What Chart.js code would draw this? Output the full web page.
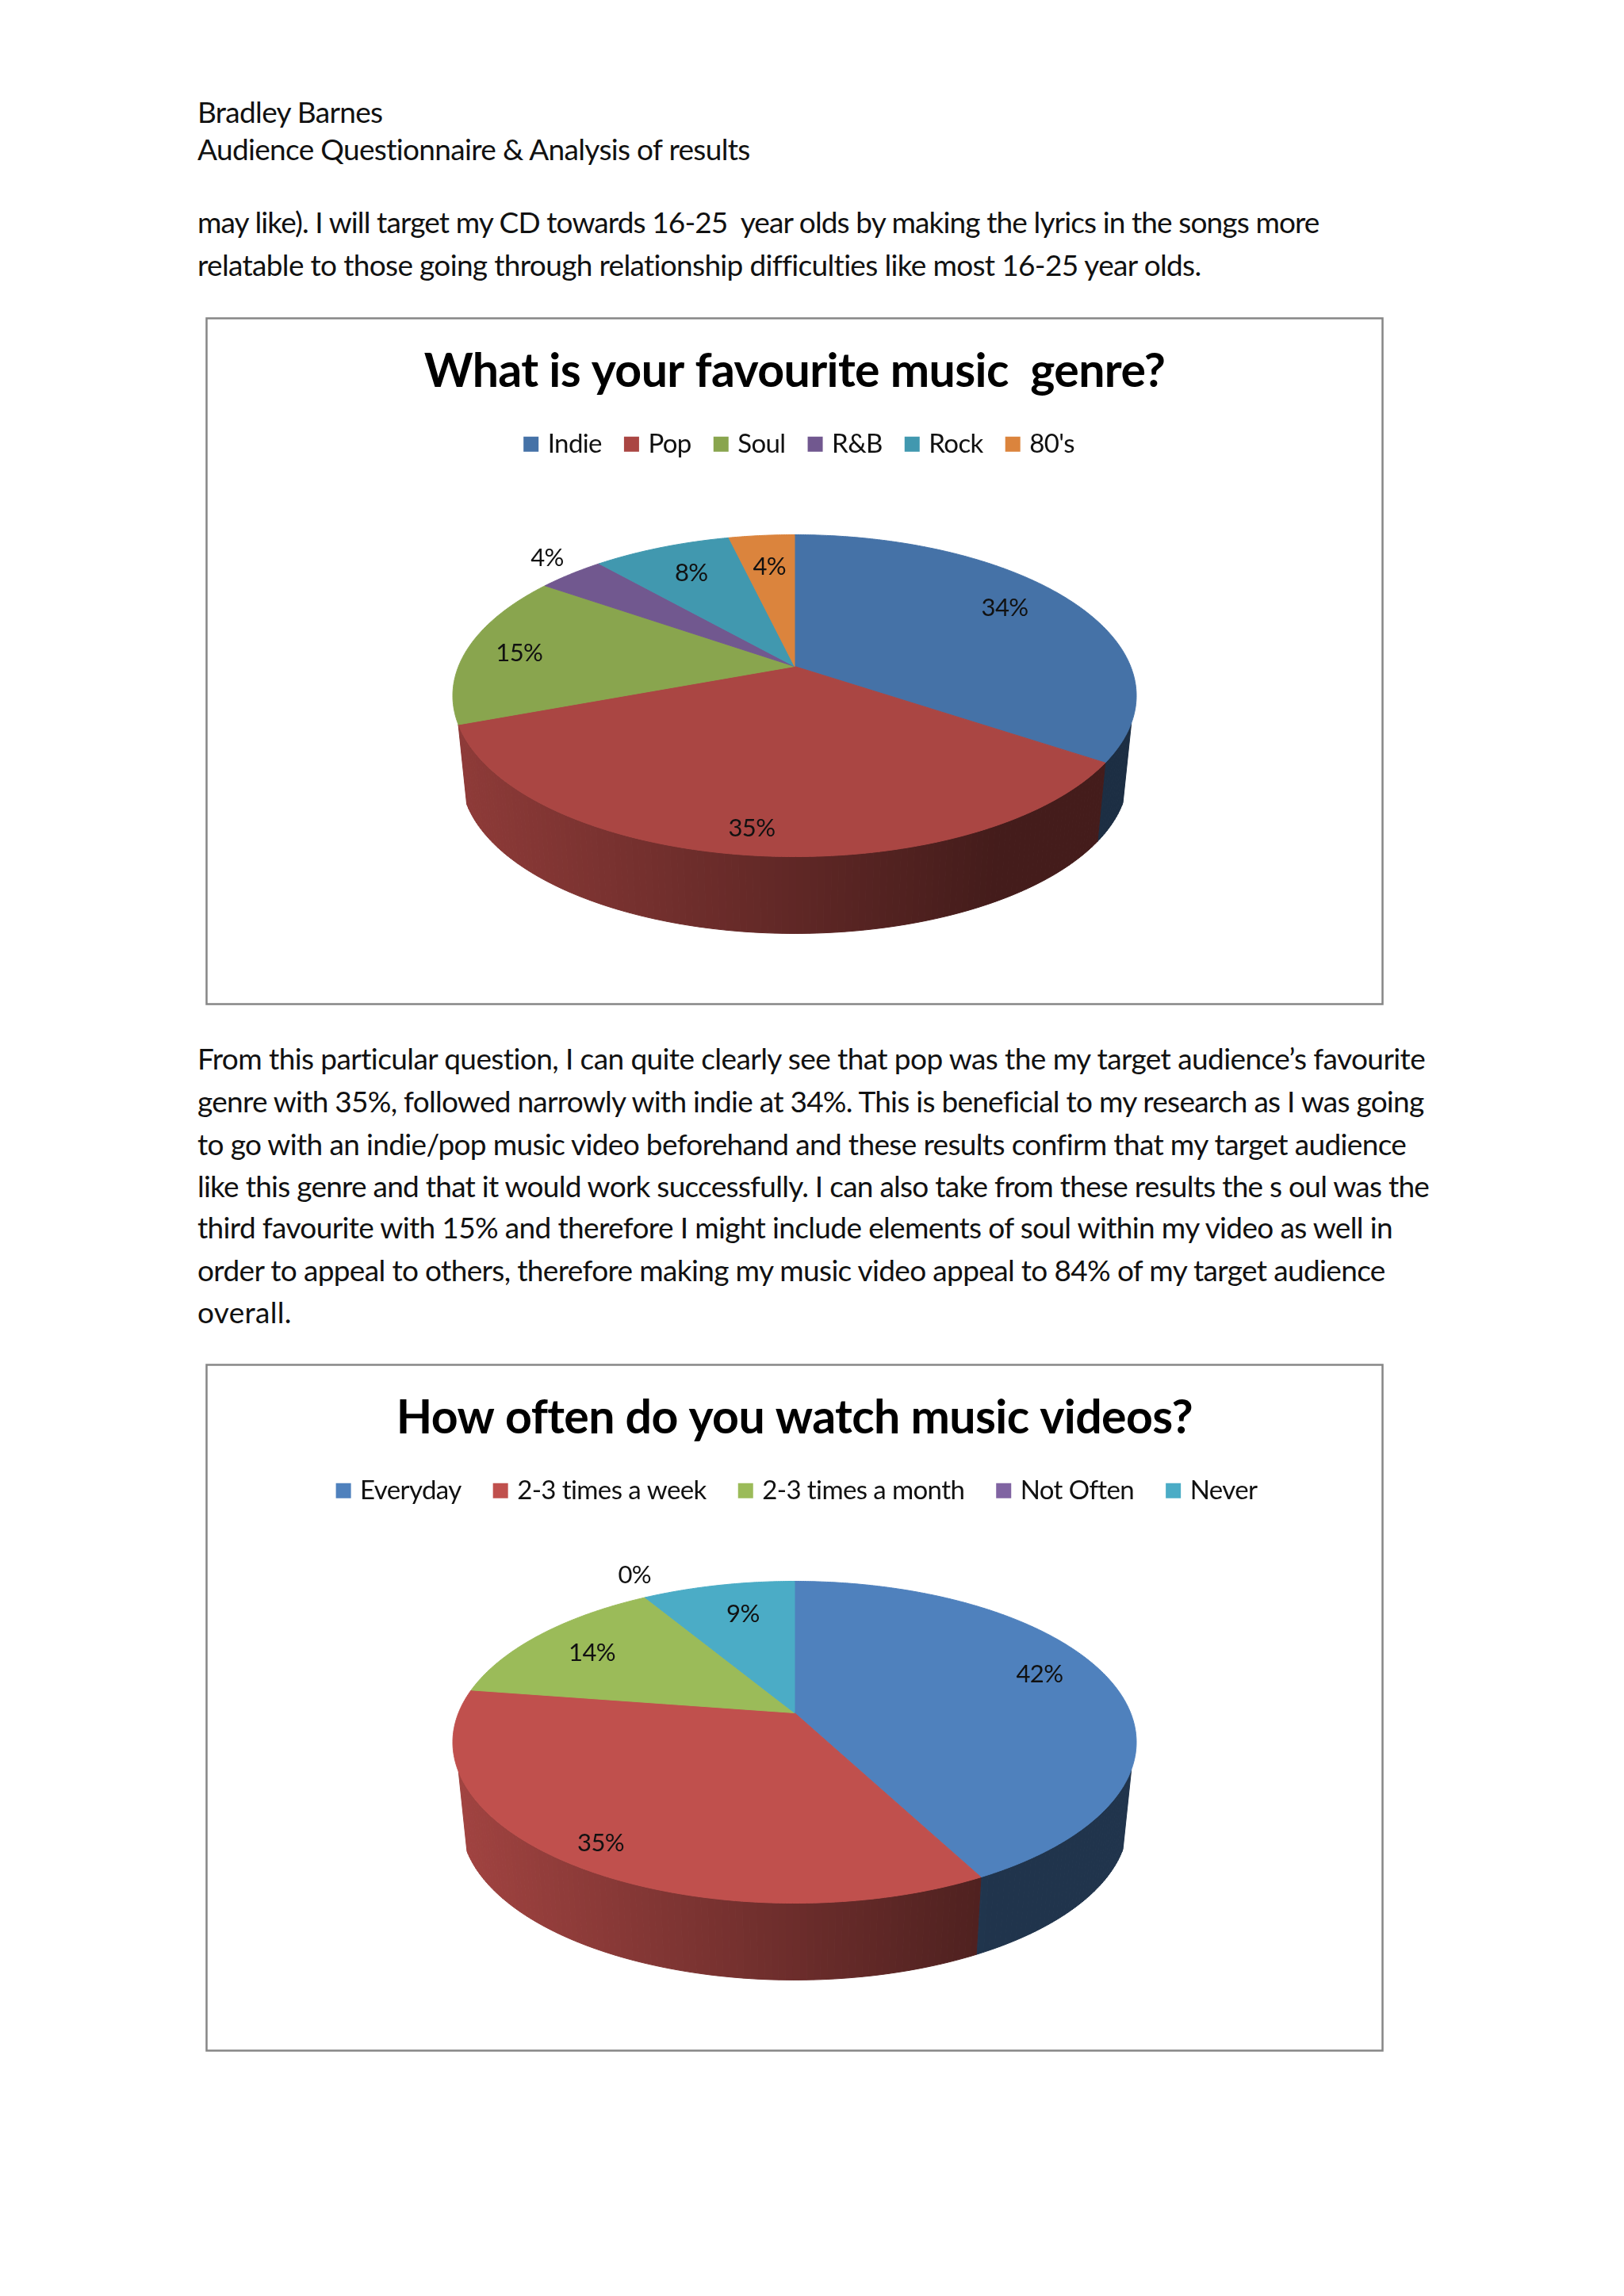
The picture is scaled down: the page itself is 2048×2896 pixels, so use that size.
<!DOCTYPE html>
<html><head><meta charset="utf-8">
<script src="https://cdn.jsdelivr.net/npm/chart.js@4"></script>
<style>
html,body{margin:0;padding:0;background:#fff;width:2048px;height:2896px;overflow:hidden}
.ln{position:absolute;left:249px;white-space:pre;font:37px/44px Lato,sans-serif;color:#111}
canvas{position:absolute;left:259px;display:block}
#c1{top:400px}#c2{top:1720px}
</style></head><body>
<canvas id="c1" width="1486" height="868"></canvas>
<canvas id="c2" width="1486" height="868"></canvas>
<script>
// ---- data ----
const genreCategories = ["Indie","Pop","Soul","R&B","Rock","80's"];
const genreValues = [34.4,34.9,15.4,3.8,7.8,3.7];
const genreColors = ["#4572a7","#aa4643","#89a54e","#71588f","#4198af","#db843d"];
const watchCategories = ["Everyday","2-3 times a week","2-3 times a month","Not Often","Never"];
const watchValues = [42.3,35.1,14.0,0,8.6];
const watchColors = ["#4f81bd","#c0504d","#9bbb59","#8064a2","#4bacc6"];
const genreLabelRadius = [.784,.884,.837,1.162,.753,.732];
const genreLabelShift = [-3,.3,-1.2,1.7,.1,0];
const watchLabelRadius = [.807,.882,.768,1.194,.741];
const watchLabelShift = [-5,-.9,-1.4,2.6,1.9];
const pageLines = [
 ["Bradley Barnes",77,261],
 ["Audience Questionnaire & Analysis of results",102,512],
 ["may like). I will target my CD towards 16-25  year olds by making the lyrics in the songs more",152,900],
 ["relatable to those going through relationship difficulties like most 16-25 year olds.",181,819],
 ["From this particular question, I can quite clearly see that pop was the my target audience’s favourite",723,973],
 ["genre with 35%, followed narrowly with indie at 34%. This is beneficial to my research as I was going",752,971],
 ["to go with an indie/pop music video beforehand and these results confirm that my target audience",781,959],
 ["like this genre and that it would work successfully. I can also take from these results the s oul was the",810,975],
 ["third favourite with 15% and therefore I might include elements of soul within my video as well in",838,950],
 ["order to appeal to others, therefore making my music video appeal to 84% of my target audience",867,945],
 ["overall.",896,199]
];
// ---- page text ----
const K = 2048/1108;
pageLines.forEach(([t,y,end])=>{
  const d=document.createElement('div');d.className='ln';d.textContent=t;
  d.style.top=(y*K-23)+'px';document.body.appendChild(d);
  const w=d.getBoundingClientRect().width;
  d.style.letterSpacing=((end*K-249-w)/t.length).toFixed(3)+'px';
});
// ---- 3D pie controller: angles come from the library's arc elements ----
function shade(hex,s){
  const n=parseInt(hex.slice(1),16);
  return `rgb(${Math.round((n>>16&255)*s)},${Math.round((n>>8&255)*s)},${Math.round((n&255)*s)})`;
}
class Pie3D extends Chart.PieController{
  draw(){
    const chart=this.chart,ctx=chart.ctx,meta=this.getMeta(),ds=this.getDataset();
    const cx=chart.width/2,cy=477.5,RX=431,RY=203,APEX=37,k=APEX/RY,dd=RX*Math.sqrt(1-k*k);
    const proj=(th,r)=>{
      const x=r*Math.sin(th),y=-r*Math.cos(th),D=1-k*y;
      return {X:dd*x/D,Y:(RY*y-APEX)/D};
    };
    const rad=Math.PI/180;
    ctx.save();
    // side wall
    meta.data.forEach((arc,i)=>{
      const c=ds.backgroundColor[i];
      const a0=arc.startAngle+Math.PI/2,a1=arc.endAngle+Math.PI/2;
      for(let t=a0;t<a1;t+=rad){
        const e=Math.min(t+rad,a1),p=proj(t,1),q=proj(e,1);
        if(p.Y<38&&q.Y<38)continue;
        const f=(p.X+RX)/(2*RX),s=Math.max(.4,.84-.55*f),col=shade(c,s);
        ctx.beginPath();
        ctx.moveTo(cx+p.X,cy+p.Y);ctx.lineTo(cx+q.X,cy+q.Y);
        ctx.lineTo(cx+q.X*.975,cy+101+q.Y*.98);ctx.lineTo(cx+p.X*.975,cy+101+p.Y*.98);
        ctx.closePath();ctx.fillStyle=col;ctx.strokeStyle=col;ctx.lineWidth=1;ctx.fill();ctx.stroke();
      }
    });
    // top face
    const ap=proj(0,0);
    meta.data.forEach((arc,i)=>{
      const a0=arc.startAngle+Math.PI/2,a1=arc.endAngle+Math.PI/2;
      if(a1-a0<1e-6)return;
      ctx.beginPath();ctx.moveTo(cx+ap.X,cy+ap.Y);
      for(let t=a0;t<a1;t+=rad/2){const p=proj(t,1);ctx.lineTo(cx+p.X,cy+p.Y);}
      const p=proj(a1,1);ctx.lineTo(cx+p.X,cy+p.Y);ctx.closePath();
      ctx.fillStyle=ds.backgroundColor[i];ctx.strokeStyle=ds.backgroundColor[i];ctx.lineWidth=1;ctx.fill();ctx.stroke();
    });
    // value labels
    ctx.fillStyle='#111';ctx.font='31px Lato,sans-serif';ctx.textAlign='center';ctx.textBaseline='middle';
    meta.data.forEach((arc,i)=>{
      const mid=(arc.startAngle+arc.endAngle)/2+Math.PI/2+ds.labelShift[i]*rad;
      const p=proj(mid,ds.labelRadius[i]);
      ctx.fillText(Math.round(ds.data[i])+'%',cx+p.X,cy+p.Y);
    });
    ctx.restore();
  }
}
Pie3D.id='pie3d';
Chart.register(Pie3D);
const frame={id:'frame',
  beforeLayout(c){c.ctx.letterSpacing=c.options.textSpacing},
  afterLayout(c){c.legend.left+=c.options.legendShift;c.legend.right+=c.options.legendShift;},
  beforeDraw(c){const x=c.ctx;x.letterSpacing=c.options.textSpacing;x.save();x.fillStyle='#fff';x.fillRect(0,0,c.width,c.height);
    x.strokeStyle='#868686';x.lineWidth=2.5;x.strokeRect(1.5,1.5,c.width-3,c.height-3);x.restore();}
};
function make(id,title,cats,vals,cols,lr,ls,pad,titleGap,shift){
  return new Chart(document.getElementById(id),{
    type:'pie3d',plugins:[frame],
    data:{labels:cats,datasets:[{data:vals,backgroundColor:cols,labelRadius:lr,labelShift:ls}]},
    options:{responsive:false,animation:false,devicePixelRatio:1,textSpacing:'-0.6px',legendShift:shift,
      layout:{padding:{top:34,left:0,right:0,bottom:0}},
      plugins:{
        tooltip:{enabled:false},
        title:{display:true,text:title,color:'#000',font:{family:'Lato,sans-serif',size:59,weight:'bold'},padding:{top:0,bottom:titleGap}},
        legend:{display:true,position:'top',labels:{color:'#111',font:{family:'Lato,sans-serif',size:33},boxWidth:9,boxHeight:9,padding:pad,generateLabels:c=>cats.map((t,i)=>({text:t,fillStyle:cols[i],strokeStyle:cols[i],lineWidth:10,fontColor:'#111',hidden:false,index:i}))}}
      }}
  });
}
make('c1',"What is your favourite music  genre?",genreCategories,genreValues,genreColors,genreLabelRadius,genreLabelShift,33,6,8);
make('c2',"How often do you watch music videos?",watchCategories,watchValues,watchColors,watchLabelRadius,watchLabelShift,45,-6,5);
</script></body></html>
